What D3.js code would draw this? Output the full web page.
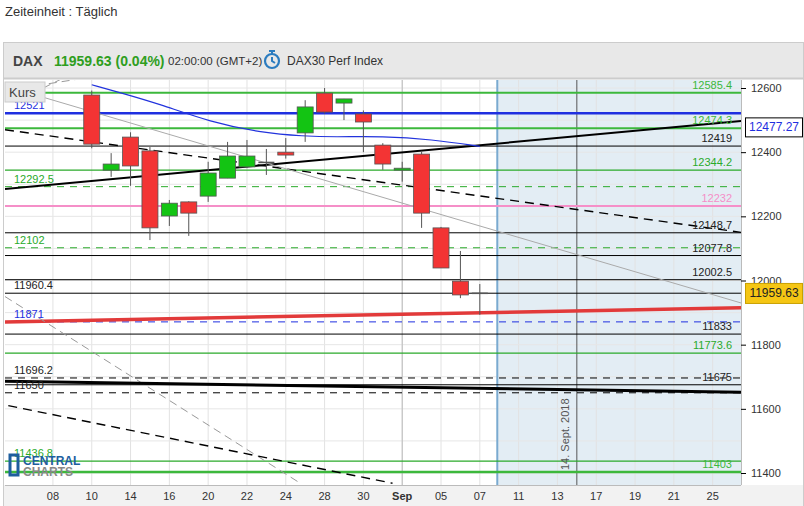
<!DOCTYPE html>
<html>
<head>
<meta charset="UTF-8">
<style>
body { margin:0; background:#fff; font-family:"Liberation Sans", Arial, sans-serif; }
svg text { font-family:"Liberation Sans", Arial, sans-serif; }
</style>
</head>
<body>
<svg width="804" height="506"></svg>
<script src="https://d3js.org/d3.v7.min.js"></script>
<script>
// trading days (index = position on x axis)
const days = ["08-06","08-07","08-08","08-09","08-10","08-13","08-14","08-15","08-16","08-17","08-20","08-21","08-22","08-23","08-24","08-27","08-28","08-29","08-30","08-31","09-03","09-04","09-05","09-06","09-07","09-10","09-11","09-12","09-13","09-14","09-17","09-18","09-19","09-20","09-21","09-24","09-25","09-26"];
const xTicks = [[2,"08"],[4,"10"],[6,"14"],[8,"16"],[10,"20"],[12,"22"],[14,"24"],[16,"28"],[18,"30"],[20,"Sep"],[22,"05"],[24,"07"],[26,"11"],[28,"13"],[30,"17"],[32,"19"],[34,"21"],[36,"25"]];
const yTicks = [12600,12400,12200,12000,11800,11600,11400];

// candles: [index, open, high, low, close]
const candles = [
  [4,12578,12592,12412,12425],[5,12344,12397,12323,12363],[6,12447,12462,12295,12357],
  [7,12404,12416,12126,12164],[8,12201,12251,12170,12241],[9,12245,12247,12139,12210],
  [10,12263,12370,12245,12335],[11,12319,12432,12319,12388],[12,12354,12438,12350,12388],
  [13,12366,12410,12329,12368],[14,12400,12444,12380,12391],[15,12460,12562,12432,12541],
  [16,12584,12600,12520,12525],[17,12553,12566,12500,12566],[18,12519,12530,12400,12494],
  [19,12422,12428,12345,12363],[20,12344,12370,12308,12350],[21,12394,12404,12164,12210],
  [22,12164,12167,12039,12039],[23,11998,12092,11945,11955],[24,11960,11989,11893,11960]
];
// moving average (blue)
const maIdx = [4.0,5.5,7.5,10.1,12.8,14.9,16.5,19,21.5,24];
const maVal = [12610,12585,12550,12494,12460,12450,12447,12450,12440,12418];

// horizontal levels: [value, color, dash, width, label, side]
const levels = [
  [12585.4,"#3cb83c",null,2,"12585.4","r"],
  [12521,"#1f2fe0",null,2.5,"12521","l"],
  [12474.3,"#3cb83c",null,2,"12474.3","r"],
  [12419,"#000",null,1,"12419","r"],
  [12344.2,"#2aaa2a",null,1.2,"12344.2","r"],
  [12292.5,"#2aaa2a","7,6",1,"12292.5","l"],
  [12232,"#f58fc8",null,2,"12232","r"],
  [12148.7,"#000",null,1,"12148.7","r"],
  [12102,"#2aaa2a","7,6",1,"12102","l"],
  [12077.8,"#000",null,1,"12077.8","r"],
  [12002.5,"#000",null,1,"12002.5","r"],
  [11960.4,"#000",null,1,"11960.4","l"],
  [11871,"#1f2fe0","7,6",1,"11871","l"],
  [11833,"#000",null,1,"11833","r"],
  [11773.6,"#2aaa2a",null,1.2,"11773.6","r"],
  [11696.2,"#000","7,6",1,"11696.2","l"],
  [11675,"#000",null,1,"11675","r"],
  [11650,"#000","7,6",1,"11650","l"],
  [11436.8,"#2aaa2a",null,1.2,"11436.8","l"],
  [11403,"#3cb83c",null,2.5,"11403","r"]
];
// trend lines: [i1, v1, i2, v2, color, dash, width]
const trends = [
  [-0.47,11871,37.46,11915,"#e23a3a",null,3.5],
  [-0.47,12285,37.46,12497,"#000",null,2],
  [-0.47,12470,37.46,12150,"#000","9,6",1.4],
  [1.0,12580,37.46,11930,"#aaa",null,1],
  [-0.2,12595,13.2,12720,"#999","8,5",1],
  [-0.47,11950,14.7,11370,"#999","8,5",1],
  [-0.47,11686,37.46,11652,"#000",null,3],
  [-0.3,11610,19.5,11368,"#000","9,6",1.4],
  [1.5,12600,2.5,12630,"#999","8,5",1]
];

const svg = d3.select("svg");
const L = 5, R = 741, T = 80, B = 485;
const x = d3.scaleLinear().domain([-0.47,37.46]).range([L,R]);
const y = d3.scaleLinear().domain([11400,12600]).range([473,88]);

// frame & header
svg.append("text").attr("x",5).attr("y",16).attr("font-size",13).attr("fill","#333").text("Zeiteinheit : Täglich");
svg.append("rect").attr("x",3.5).attr("y",42.5).attr("width",800).attr("height",463).attr("fill","#fff").attr("stroke","#ccc");
svg.append("rect").attr("x",4).attr("y",43).attr("width",799).attr("height",35).attr("fill","#e8e8e8");
svg.append("line").attr("x1",4).attr("x2",803).attr("y1",78.5).attr("y2",78.5).attr("stroke","#ccc").attr("stroke-width",2);
svg.append("text").attr("x",13).attr("y",66).attr("font-size",14).attr("font-weight","bold").attr("fill","#444").text("DAX");
svg.append("text").attr("x",54).attr("y",66).attr("font-size",14).attr("font-weight","bold").attr("fill","#2e9e20").text("11959.63 (0.04%)");
svg.append("text").attr("x",168).attr("y",65).attr("font-size",11.5).attr("fill","#333").text("02:00:00  (GMT+2)");
const ic = svg.append("g").attr("transform","translate(272,61)");
ic.append("circle").attr("r",7).attr("fill","none").attr("stroke","#2b7cc0").attr("stroke-width",2.2);
ic.append("path").attr("d","M0,-4V0L3,2M-3,-10H3M0,-10V-7").attr("stroke","#2b7cc0").attr("stroke-width",2).attr("fill","none");
svg.append("text").attr("x",287).attr("y",65).attr("font-size",12).attr("fill","#333").text("DAX30 Perf Index");

const plot = svg.append("g");
plot.append("clipPath").attr("id","c").append("rect").attr("x",L).attr("y",T).attr("width",R-L).attr("height",B-T);
const g = plot.append("g").attr("clip-path","url(#c)");

// shaded future
g.append("rect").attr("x",x(24.9)).attr("y",T).attr("width",R-x(24.9)).attr("height",B-T).attr("fill","#e3edf4");
// grid
g.selectAll(".vg").data(xTicks).join("line").attr("x1",d=>x(d[0])).attr("x2",d=>x(d[0])).attr("y1",T).attr("y2",B).attr("stroke","#e2e2e2");
g.selectAll(".hg").data(d3.range(11400,12700,100)).join("line").attr("x1",L).attr("x2",R).attr("y1",d=>y(d)).attr("y2",d=>y(d)).attr("stroke","#e6e6e6");
g.append("line").attr("x1",x(20)).attr("x2",x(20)).attr("y1",T).attr("y2",B).attr("stroke","#bbb");
g.append("line").attr("x1",x(24.9)).attr("x2",x(24.9)).attr("y1",T).attr("y2",B).attr("stroke","#7aaad0").attr("stroke-width",2);
g.append("line").attr("x1",x(29)).attr("x2",x(29)).attr("y1",T).attr("y2",B).attr("stroke","#555");

// levels
g.selectAll(".lv").data(levels).join("line").attr("x1",L).attr("x2",R).attr("y1",d=>y(d[0])).attr("y2",d=>y(d[0]))
  .attr("stroke",d=>d[1]).attr("stroke-dasharray",d=>d[2]).attr("stroke-width",d=>d[3]);
// trends
g.selectAll(".tr").data(trends).join("line").attr("x1",d=>x(d[0])).attr("y1",d=>y(d[1])).attr("x2",d=>x(d[2])).attr("y2",d=>y(d[3]))
  .attr("stroke",d=>d[4]).attr("stroke-dasharray",d=>d[5]).attr("stroke-width",d=>d[6]);
// MA
g.append("path").attr("d",d3.line().curve(d3.curveBasis).x((d,i)=>x(maIdx[i])).y(d=>y(d))(maVal)).attr("fill","none").attr("stroke","#2233dd").attr("stroke-width",1.2);

// candles
const cg = g.selectAll(".cd").data(candles).join("g");
cg.append("line").attr("x1",d=>x(d[0])).attr("x2",d=>x(d[0])).attr("y1",d=>y(d[2])).attr("y2",d=>y(d[3])).attr("stroke","#555");
cg.append("rect").attr("x",d=>x(d[0])-8).attr("width",16)
  .attr("y",d=>y(Math.max(d[1],d[4]))).attr("height",d=>Math.max(1,Math.abs(y(d[1])-y(d[4]))))
  .attr("fill",d=>d[4]>d[1]?"#13c413":"#f33434").attr("stroke","#555").attr("stroke-width",0.8)
  .filter(d=>Math.abs(d[4]-d[1])<5).attr("height",0).attr("fill","none");
cg.filter(d=>Math.abs(d[4]-d[1])<5).append("line").attr("x1",d=>x(d[0])-8).attr("x2",d=>x(d[0])+8).attr("y1",d=>y(d[4])).attr("y2",d=>y(d[4])).attr("stroke",d=>d[4]>=d[1]?"#555":"#e33").attr("stroke-width",1.5);

// level labels
g.selectAll(".ll").data(levels).join("text")
  .attr("x",d=>d[5]==="r"?732:14).attr("y",d=>y(d[0])-4).attr("text-anchor",d=>d[5]==="r"?"end":"start")
  .attr("font-size",11).attr("fill",d=>d[1]==="#000"?"#222":d[1]).text(d=>d[4]);

g.append("text").attr("transform",`translate(${x(29)-8},470) rotate(-90)`).attr("font-size",11).attr("fill","#555").text("14. Sept. 2018");

// logo
const lg = g.append("g").attr("transform","translate(10,455)");
lg.append("rect").attr("x",0).attr("y",0).attr("width",8).attr("height",20).attr("fill","none").attr("stroke","#1d5e9e").attr("stroke-width",3);
lg.append("text").attr("x",13).attr("y",10).attr("font-size",12).attr("font-weight","bold").attr("fill","#1d5e9e").text("CENTRAL");
lg.append("text").attr("x",13).attr("y",21).attr("font-size",12).attr("font-weight","bold").attr("fill","#888").text("CHARTS");

// Kurs box
svg.append("rect").attr("x",5).attr("y",82).attr("width",40).attr("height",20).attr("fill","#e8e8e8").attr("stroke","#ccc");
svg.append("text").attr("x",9).attr("y",97).attr("font-size",13).attr("fill","#444").text("Kurs");

// bottom axis
svg.append("rect").attr("x",4).attr("y",B).attr("width",799).attr("height",21).attr("fill","#f2f2f2");
svg.append("line").attr("x1",L).attr("x2",R).attr("y1",B+0.5).attr("y2",B+0.5).attr("stroke","#bbb");
svg.selectAll(".xt").data(xTicks).join("text").attr("x",d=>x(d[0])).attr("y",500).attr("text-anchor","middle")
  .attr("font-size",11).attr("fill","#333").attr("font-weight",d=>d[1]==="Sep"?"bold":null).text(d=>d[1]);
svg.append("line").attr("x1",R+0.5).attr("x2",R+0.5).attr("y1",T).attr("y2",B).attr("stroke","#bbb");

// right axis
const ya = svg.append("g").attr("transform",`translate(${R},0)`).call(d3.axisRight(y).tickValues(yTicks).tickSize(5).tickFormat(d3.format("d")));
ya.select(".domain").remove();
ya.selectAll("text").attr("font-size",11).attr("fill","#333").attr("x",10);

// price boxes
svg.append("rect").attr("x",745.5).attr("y",y(12477.27)-9.5).attr("width",57).attr("height",19).attr("fill","#fff").attr("stroke","#000");
svg.append("text").attr("x",774).attr("y",y(12477.27)+4).attr("text-anchor","middle").attr("font-size",12).attr("fill","#1f2fe0").text("12477.27");
svg.append("rect").attr("x",745.5).attr("y",y(11959.63)-10).attr("width",57).attr("height",20).attr("fill","#f5c614").attr("stroke","#c9a000");
svg.append("text").attr("x",774).attr("y",y(11959.63)+4).attr("text-anchor","middle").attr("font-size",12).attr("fill","#222").text("11959.63");
</script>
</body>
</html>
